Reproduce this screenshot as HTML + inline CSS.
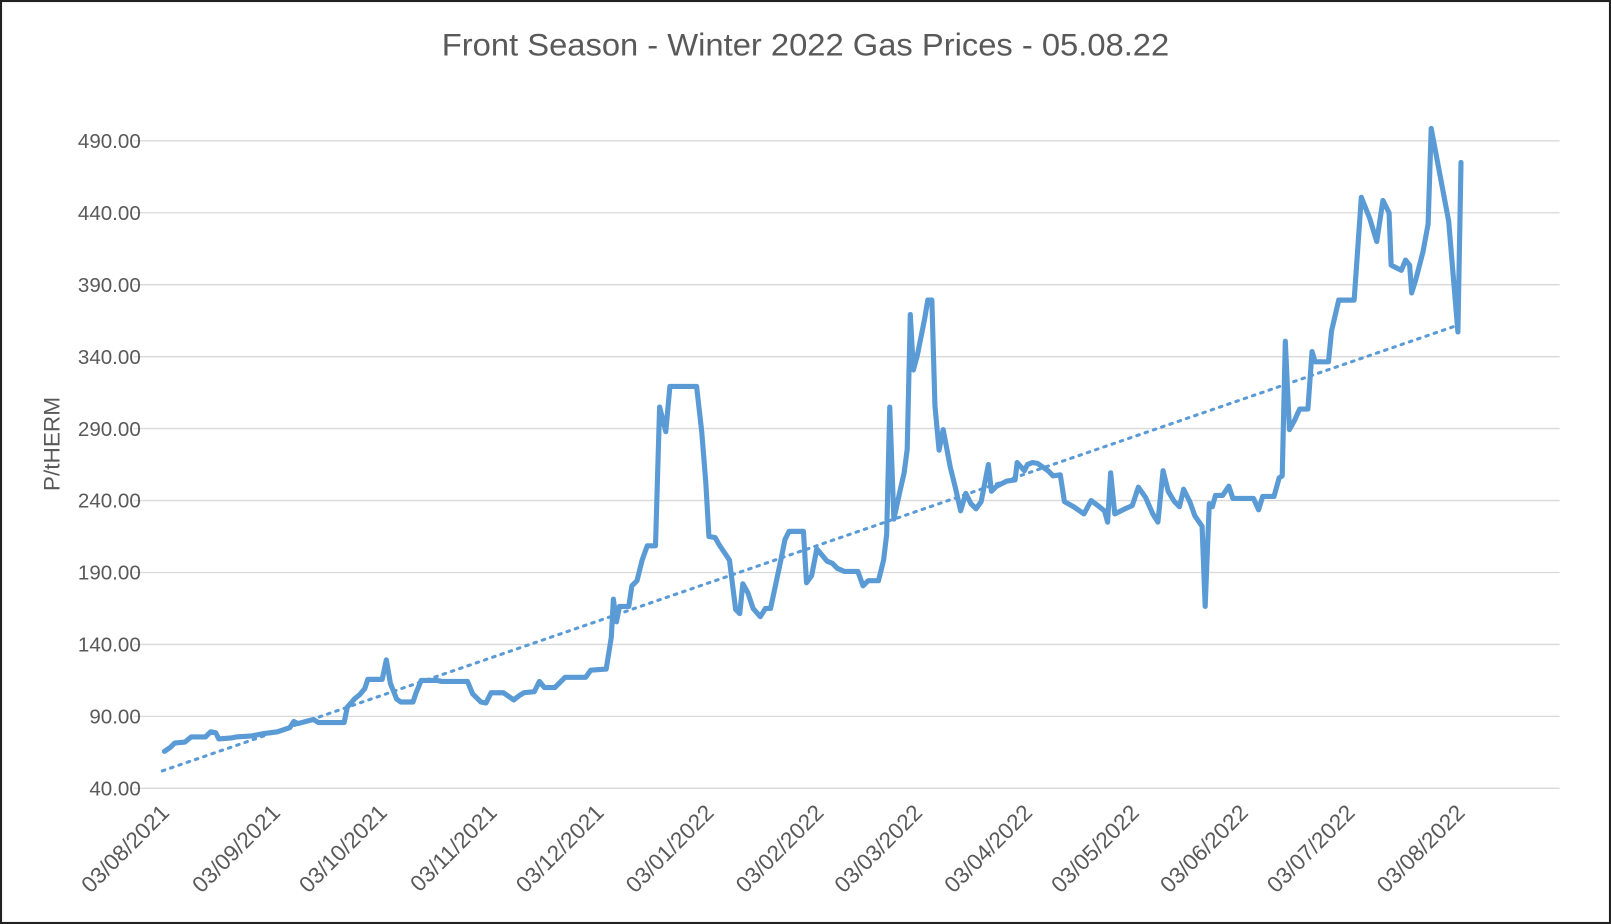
<!DOCTYPE html>
<html><head><style>html,body{margin:0;padding:0;background:#fff}svg{display:block}</style></head>
<body>
<svg width="1611" height="924" viewBox="0 0 1568 899" preserveAspectRatio="none" xmlns="http://www.w3.org/2000/svg" font-family="'Liberation Sans', sans-serif" fill="#595959">
<rect x="1" y="1" width="1566" height="897" fill="#fff" stroke="#222" stroke-width="2"/>
<text x="784" y="54" font-size="31" text-anchor="middle" textLength="708" lengthAdjust="spacingAndGlyphs">Front Season - Winter 2022 Gas Prices - 05.08.22</text>
<g stroke="#d9d9d9" stroke-width="1.3">
<line x1="130" x2="1518" y1="137" y2="137"/><line x1="130" x2="1518" y1="207" y2="207"/><line x1="130" x2="1518" y1="277" y2="277"/><line x1="130" x2="1518" y1="347" y2="347"/><line x1="130" x2="1518" y1="417" y2="417"/><line x1="130" x2="1518" y1="487" y2="487"/><line x1="130" x2="1518" y1="557" y2="557"/><line x1="130" x2="1518" y1="627" y2="627"/><line x1="130" x2="1518" y1="697" y2="697"/><line x1="130" x2="1518" y1="767" y2="767"/>
</g>
<g font-size="20" text-anchor="end">
<text x="137" y="144">490.00</text><text x="137" y="214">440.00</text><text x="137" y="284">390.00</text><text x="137" y="354">340.00</text><text x="137" y="424">290.00</text><text x="137" y="494">240.00</text><text x="137" y="564">190.00</text><text x="137" y="634">140.00</text><text x="137" y="704">90.00</text><text x="137" y="774">40.00</text>
</g>
<text transform="translate(58,432) rotate(-90)" font-size="22" text-anchor="middle">P/tHERM</text>
<g font-size="22" text-anchor="end">
<text transform="translate(166,792) rotate(-45)">03/08/2021</text>
<text transform="translate(274,792) rotate(-45)">03/09/2021</text>
<text transform="translate(378,792) rotate(-45)">03/10/2021</text>
<text transform="translate(485,792) rotate(-45)">03/11/2021</text>
<text transform="translate(589,792) rotate(-45)">03/12/2021</text>
<text transform="translate(696,792) rotate(-45)">03/01/2022</text>
<text transform="translate(803,792) rotate(-45)">03/02/2022</text>
<text transform="translate(899,792) rotate(-45)">03/03/2022</text>
<text transform="translate(1006,792) rotate(-45)">03/04/2022</text>
<text transform="translate(1110,792) rotate(-45)">03/05/2022</text>
<text transform="translate(1216,792) rotate(-45)">03/06/2022</text>
<text transform="translate(1320,792) rotate(-45)">03/07/2022</text>
<text transform="translate(1427,792) rotate(-45)">03/08/2022</text>
</g>
<line x1="158" y1="750" x2="1420" y2="316" stroke="#5b9bd5" stroke-width="3" stroke-dasharray="2.5 6" stroke-linecap="round"/>
<polyline fill="none" stroke="#5b9bd5" stroke-width="5" stroke-linejoin="round" stroke-linecap="round" points="160,731 166,727 170,723 180,722 186,717 200,717 205,712 210,713 213,719 225,718 230,717 245,716 255,714 270,712 282,708 286,702 290,704 305,700 310,703 320,703 335,703 338,688 345,680 350,676 355,670 358,661 372,661 376,642 380,665 386,680 390,683 402,683 405,674 410,662 425,662 430,663 455,663 460,675 468,683 473,684 478,674 490,674 500,681 505,677 510,674 520,673 525,663 530,669 540,669 550,659 570,659 575,652 590,651 595,620 597,583 600,605 603,590 612,590 615,570 620,565 625,545 630,531 638,531 642,396 648,420 652,376 678,376 683,420 687,470 690,522 696,523 700,530 710,545 716,593 720,597 723,568 728,577 733,592 740,600 745,592 750,592 760,545 764,525 768,517 782,517 785,567 790,560 795,534 800,540 805,546 810,548 815,553 822,556 835,556 840,570 845,565 855,565 860,545 863,520 866,396 870,505 875,482 880,460 883,437 886,306 889,360 893,345 900,310 903,292 907,292 910,395 914,438 918,418 925,455 930,475 935,497 940,480 945,490 950,495 955,488 962,452 965,478 970,473 980,468 988,467 990,450 997,458 1000,452 1005,450 1010,451 1020,458 1025,463 1032,462 1036,488 1045,493 1055,500 1062,487 1070,493 1075,497 1078,508 1081,460 1085,500 1095,495 1102,492 1108,474 1115,484 1122,500 1127,508 1132,458 1137,478 1143,488 1148,493 1152,476 1158,488 1163,502 1170,512 1173,590 1177,490 1180,493 1183,482 1190,482 1196,473 1200,485 1220,485 1225,496 1229,483 1240,483 1245,465 1248,463 1251,332 1255,418 1260,409 1265,398 1273,398 1277,342 1280,352 1293,352 1296,322 1303,292 1318,292 1325,192 1333,212 1340,235 1346,195 1352,207 1354,258 1364,263 1368,253 1372,258 1374,285 1378,272 1385,245 1390,218 1393,125 1410,215 1419,323 1422,158"/>
</svg>
</body></html>
